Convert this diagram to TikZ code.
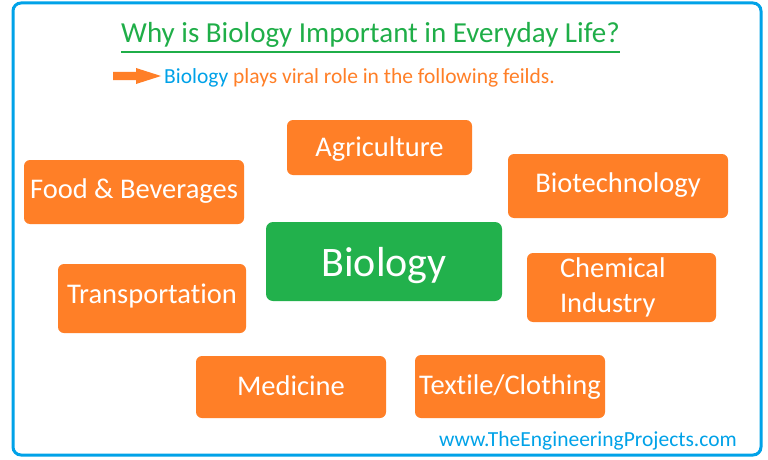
\documentclass[tikz,border=0pt]{standalone}
\usepackage{fontspec}
\setmainfont{Carlito}[Ligatures=NoCommon]
\definecolor{frameblue}{HTML}{00A2E8}
\definecolor{boxorange}{HTML}{FF7F27}
\definecolor{biogreen}{HTML}{22B14C}
\definecolor{titlegreen}{HTML}{1FAE48}
\begin{document}
\begin{tikzpicture}[x=1pt,y=-1pt,
  box/.style={fill=boxorange, rounded corners=6pt, text=white, inner sep=0pt,
    font=\fontsize{28.5}{35}\selectfont, text height=18pt, text depth=6pt},
  centerbox/.style={fill=biogreen, rounded corners=7pt, text=white, inner sep=0pt,
    font=\fontsize{42}{50}\selectfont, text height=31pt, text depth=2pt}]
\useasboundingbox (0,0) rectangle (768,460);
\fill[white] (0,0) rectangle (768,460);
\draw[line width=3pt, frameblue, rounded corners=8pt] (13,3) rectangle (761,455);

\node[anchor=base west, text=titlegreen, font=\fontsize{29}{32}\selectfont, inner sep=0pt] (title) at (121,43) {Why is Biology Important in Everyday Life?};
\draw[titlegreen, line width=2pt] ([yshift=-9pt]title.base west) -- ([yshift=-9pt]title.base east);

\fill[boxorange] (113,72) -- (136,72) -- (136,68) -- (161,76) -- (136,84) -- (136,80) -- (113,80) -- cycle;
\node[anchor=base west, text=boxorange, font=\fontsize{21.5}{24}\selectfont, inner sep=0pt] (sub) at (164,83) {\textcolor{frameblue}{Biology} plays viral role in the following feilds.};

\node[box, minimum width=185, minimum height=55, text height=23pt] (agri) at (379.5,147.5) {Agriculture};
\node[box, minimum width=220, minimum height=64] (food) at (134,192) {Food \& Beverages};
\node[box, minimum width=188, minimum height=69, text height=15pt] (trans) at (152,298.5) {Transportation};
\node[centerbox, minimum width=236, minimum height=79] (bio) at (384,261.5) {Biology};
\node[box, minimum width=220, minimum height=64] (biotech) at (618,186) {Biotechnology\hspace{10pt}};
\node[box, minimum width=189, minimum height=69, align=left, text height=, text depth=, inner xsep=33pt, text width=123pt] (chem) at (621.5,287.5) {Chemical\\Industry};
\node[box, minimum width=190, minimum height=62, text height=23pt] (med) at (291,387) {Medicine};
\node[box, minimum width=190, minimum height=63, text height=21pt] (tex) at (510,386.5) {Textile/Clothing};

\node[anchor=base east, text=frameblue, font=\fontsize{21.5}{24}\selectfont, inner sep=0pt] (web) at (737,446) {www.TheEngineeringProjects.com};
\end{tikzpicture}
\end{document}
